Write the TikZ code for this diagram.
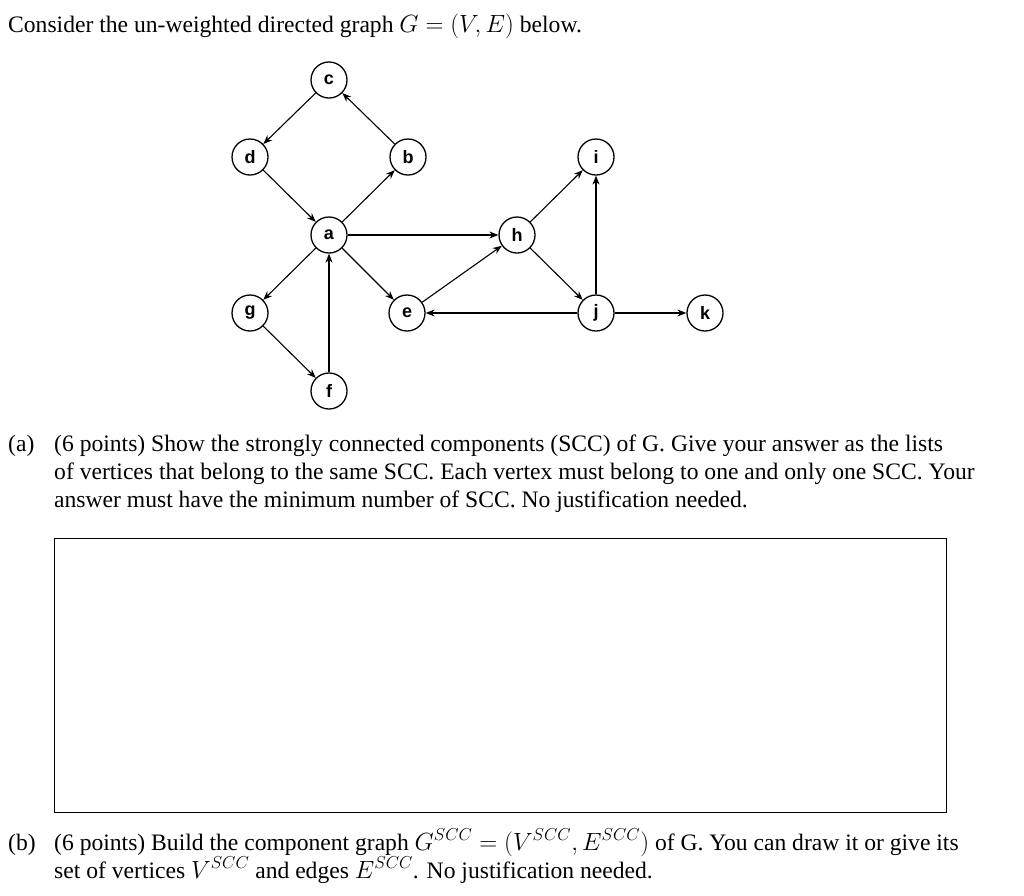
\documentclass[tikz,border=0pt]{standalone}
\usepackage{fontspec}
\setmainfont{Liberation Serif}
\setsansfont{Liberation Sans}
\usetikzlibrary{arrows.meta}
\begin{document}
\begin{tikzpicture}[x=1pt,y=-1pt,
  vtx/.style={circle,draw,line width=1.3pt,minimum size=36pt,inner sep=0pt,font=\sffamily\bfseries\fontsize{18}{18}\selectfont},
  edge/.style={-{Stealth[length=9pt,width=7pt]},line width=1.1pt},
  txt/.style={anchor=base west,inner sep=0pt,font=\fontsize{23.6}{28}\selectfont}]
\useasboundingbox (0,0) rectangle (1024,895);
\node[vtx] (c) at (329,80) {c};
\node[vtx] (d) at (250,157) {d};
\node[vtx] (b) at (408,157) {b};
\node[vtx] (i) at (596,157) {i};
\node[vtx] (a) at (329,235) {a};
\node[vtx] (h) at (517,235) {h};
\node[vtx] (g) at (250,313) {g};
\node[vtx] (e) at (407,313) {e};
\node[vtx] (j) at (596,313) {j};
\node[vtx] (k) at (705,313) {k};
\node[vtx] (f) at (329,391) {f};
\draw[edge] (c)--(d);
\draw[edge] (b)--(c);
\draw[edge] (d)--(a);
\draw[edge] (a)--(b);
\draw[edge] (a)--(h);
\draw[edge] (a)--(g);
\draw[edge] (a)--(e);
\draw[edge] (f)--(a);
\draw[edge] (g)--(f);
\draw[edge] (e)--(h);
\draw[edge] (h)--(i);
\draw[edge] (h)--(j);
\draw[edge] (j)--(i);
\draw[edge] (j)--(e);
\draw[edge] (j)--(k);
\node[txt] (t0) at (8,32) {Consider the un-weighted directed graph $G=(V,E)$ below.};
\node[txt] (a0) at (8,451) {(a)};
\node[txt] (a1) at (54,451) {(6 points) Show the strongly connected components (SCC) of G. Give your answer as the lists};
\node[txt] (a2) at (54,479) {of vertices that belong to the same SCC. Each vertex must belong to one and only one SCC. Your};
\node[txt] (a3) at (54,507) {answer must have the minimum number of SCC. No justification needed.};
\node[draw,line width=0.6pt,minimum width=892pt,minimum height=274pt,anchor=north west,inner sep=0pt] (box) at (54,538) {};
\node[txt] (b0) at (8,850) {(b)};
\node[txt] (b1) at (54,850) {(6 points) Build the component graph $G^{SCC}=(V^{SCC},E^{SCC})$ of G. You can draw it or give its};
\node[txt] (b2) at (54,878) {set of vertices $V^{SCC}$ and edges $E^{SCC}$. No justification needed.};
\end{tikzpicture}
\end{document}
